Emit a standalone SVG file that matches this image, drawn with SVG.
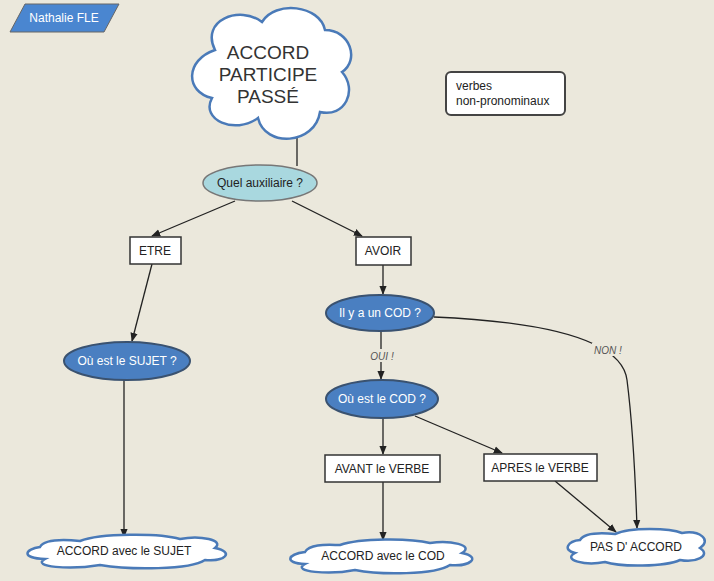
<svg xmlns="http://www.w3.org/2000/svg" width="714" height="581" viewBox="0 0 714 581">
<defs>
<marker id="ar" viewBox="0 0 10 10" refX="9" refY="5" markerWidth="7" markerHeight="7" orient="auto"><path d="M0,1 L10,5 L0,9 z" fill="#222"/></marker>
<style>
text{font-family:"Liberation Sans",Arial,sans-serif;text-anchor:middle;dominant-baseline:central}
.c{fill:none;stroke:#222;stroke-width:1.3}
.box{fill:#fff;stroke:#333;stroke-width:1.5}
.cloud{fill:#fff;stroke:#4a7ab8;stroke-width:2.5}
.dk{fill:#4a7fc1;stroke:#3a5270;stroke-width:2}
.t{font-size:12px;fill:#222}
.w{font-size:12px;fill:#fff}
.lab{font-size:10px;fill:#555;font-style:italic}
</style>
</defs>
<rect width="714" height="581" fill="#ebe8dc"/>
<g id="tag"><polygon points="10,32 25,4 119,4 104,32" fill="#4a86d0" stroke="#666"/><text x="64" y="18" class="w">Nathalie FLE</text></g>
<g id="note"><rect x="446" y="72" width="119" height="43" rx="5" fill="#fff" stroke="#444" stroke-width="2"/><text x="456" y="86" class="t" style="text-anchor:start">verbes</text><text x="456" y="101" class="t" style="text-anchor:start">non-pronominaux</text></g>
<g id="connectors">
<line class="c" x1="297" y1="130" x2="297" y2="166"/>
<line class="c" x1="235" y1="201" x2="152" y2="236" marker-end="url(#ar)"/>
<line class="c" x1="292" y1="201" x2="362" y2="236" marker-end="url(#ar)"/>
<line class="c" x1="152" y1="264" x2="132" y2="341" marker-end="url(#ar)"/>
<line class="c" x1="383" y1="265" x2="383" y2="294" marker-end="url(#ar)"/>
<line class="c" x1="381" y1="331" x2="381" y2="379" marker-end="url(#ar)"/>
<line class="c" x1="383" y1="418" x2="383" y2="454" marker-end="url(#ar)"/>
<line class="c" x1="415" y1="416" x2="502" y2="453" marker-end="url(#ar)"/>
<line class="c" x1="383" y1="482" x2="383" y2="540" marker-end="url(#ar)"/>
<line class="c" x1="555" y1="481" x2="616" y2="532" marker-end="url(#ar)"/>
<line class="c" x1="124" y1="380" x2="124" y2="537" marker-end="url(#ar)"/>
<path class="c" d="M434,317 Q620,325 627,380 T637,528" marker-end="url(#ar)"/>
<rect x="368" y="349" width="28" height="13" fill="#ebe8dc"/><text x="382" y="356" class="lab">OUI !</text>
<rect x="592" y="343" width="32" height="13" fill="#ebe8dc"/><text x="608" y="350" class="lab">NON !</text>
</g>
<g id="main"><path class="cloud" d="M215,50 C200,20 240,5 262,22 C275,0 320,5 325,30 C350,30 360,60 342,72 C358,90 345,118 320,112 C315,145 265,148 258,118 C235,135 200,120 212,98 C185,92 185,60 215,50 z"/>
<text x="268" y="52" style="font-size:19px;fill:#333">ACCORD</text><text x="268" y="74" style="font-size:19px;fill:#333">PARTICIPE</text><text x="268" y="96" style="font-size:19px;fill:#333">PASSÉ</text></g>
<g id="aux"><ellipse cx="260" cy="183" rx="57" ry="18" fill="#a9d8df" stroke="#777" stroke-width="1.5"/><text x="260" y="183" class="t">Quel auxiliaire ?</text></g>
<g id="etre"><rect class="box" x="130" y="237" width="51" height="27"/><text x="155" y="251" class="t">ETRE</text></g>
<g id="avoir"><rect class="box" x="356" y="237" width="55" height="28"/><text x="383" y="251" class="t">AVOIR</text></g>
<g id="sujet"><ellipse class="dk" cx="127" cy="361" rx="63" ry="19"/><text x="127" y="361" class="w">Où est le SUJET ?</text></g>
<g id="ilya"><ellipse class="dk" cx="380" cy="313" rx="54" ry="18"/><text x="380" y="313" class="w">Il y a un COD ?</text></g>
<g id="oucod"><ellipse class="dk" cx="382" cy="399" rx="56" ry="19"/><text x="382" y="399" class="w">Où est le COD ?</text></g>
<g id="avant"><rect class="box" x="325" y="455" width="115" height="27"/><text x="382" y="469" class="t">AVANT le VERBE</text></g>
<g id="apres"><rect class="box" x="484" y="454" width="113" height="27"/><text x="540" y="468" class="t">APRES le VERBE</text></g>
<g id="cs"><path class="cloud" d="M40,547 C45,538 70,540 80,541 C100,533 160,533 180,539 C200,535 225,540 215,548 C235,552 225,562 205,560 C190,570 130,570 100,565 C70,570 30,567 45,559 C20,558 25,549 40,547 z"/><text x="124" y="551" class="t">ACCORD avec le SUJET</text></g>
<g id="cc"><path class="cloud" d="M305,552 C310,543 330,545 340,545 C360,538 410,538 430,543 C450,540 475,545 462,553 C482,557 470,567 450,565 C435,575 380,575 355,570 C330,575 290,572 305,564 C283,563 288,554 305,552 z"/><text x="383" y="556" class="t">ACCORD avec le COD</text></g>
<g id="pas"><path class="cloud" d="M580,540 C585,532 605,533 615,534 C630,527 670,528 682,533 C700,530 712,540 700,548 C712,556 695,563 680,560 C665,567 620,567 605,562 C585,566 562,560 575,553 C562,550 568,541 580,540 z"/><text x="636" y="547" class="t">PAS D' ACCORD</text></g>
</svg>
